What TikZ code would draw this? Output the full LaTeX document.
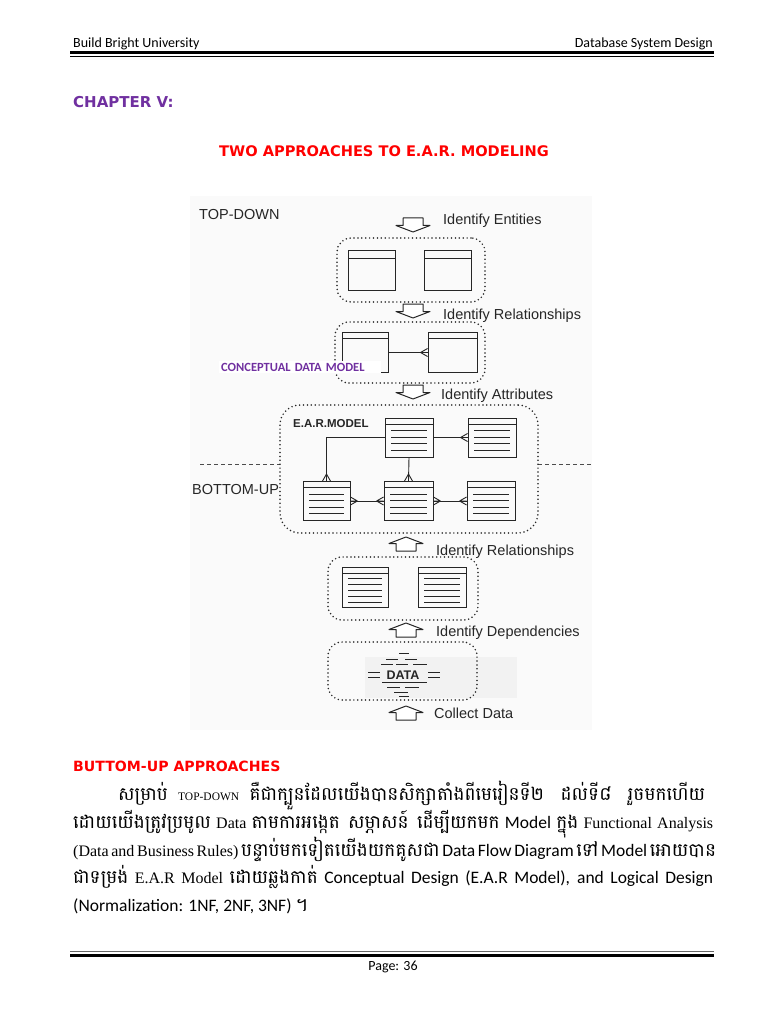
\documentclass[tikz,border=0pt]{standalone}
\usepackage{fontspec}
\setmainfont{Carlito}
\newfontfamily\khmerf[Script=Khmer]{Battambang}
\newfontfamily\arialf{Liberation Sans}
\newfontfamily\timesf{Liberation Serif}
\newfontfamily\comicf{DejaVu Sans}
\usetikzlibrary{positioning,calc}

\definecolor{chappurple}{RGB}{112,48,160}
\definecolor{titlered}{RGB}{255,0,0}
\colorlet{ink}{black!85}

% crow's foot at an entity edge, #2 = direction of the incoming line
\newcommand\crowfoot[2]{\draw[link, shift={(#1)}, rotate=#2] (7pt,0pt) -- (0pt,4pt) (7pt,0pt) -- (0pt,-4pt) (7pt,0pt) -- (0pt,0pt);}
\newcommand\km[1]{{\khmerf\fontsize{18.5}{22}\selectfont #1}}
\newcommand\serifbit[1]{{\timesf\fontsize{16}{20}\selectfont #1}}

\begin{document}
\begin{tikzpicture}[x=1pt,y=-1pt]
\tikzset{
  stage/.style={draw=ink, line width=1.7pt, dash pattern=on 0pt off 3.9pt, line cap=round, rounded corners=14pt, inner sep=0pt},
  entbox/.style={draw=ink, line width=0.9pt, inner sep=0pt, minimum width=47pt, minimum height=40pt},
  plain/.style={entbox, path picture={\draw[ink, line width=0.8pt] ([yshift=-#1]path picture bounding box.north west) -- ([yshift=-#1]path picture bounding box.north east);}},
  plain/.default=8pt,
  listed/.style 2 args={entbox, path picture={
      \draw[ink, line width=0.8pt] ([yshift=-6pt]path picture bounding box.north west) -- ([yshift=-6pt]path picture bounding box.north east);
      \foreach \k in {1,...,#1}
        \draw[ink, line width=0.9pt] ([xshift=6pt,yshift=-6pt-\k*#2]path picture bounding box.north west) -- ([xshift=-6pt,yshift=-6pt-\k*#2]path picture bounding box.north east);}},
  steplabel/.style={font=\arialf\fontsize{14.5}{16}\selectfont, text=ink, anchor=base west, inner sep=0pt},
  link/.style={draw=ink, line width=0.9pt},
  divider/.style={draw=black!70, line width=0.8pt, dash pattern=on 4pt off 3pt},
  heading/.style={font=\comicf\bfseries\fontsize{#1}{18}\selectfont, inner sep=0pt},
  para/.style={font=\fontsize{17.5}{20}\selectfont, anchor=base west, inner sep=0pt},
  blockarrow/.pic={\draw[ink, line width=1pt, fill=white, line join=round] (0,0) -- (17pt,-6.5pt) -- (10pt,-6.5pt) -- (10pt,-14pt) -- (-10pt,-14pt) -- (-10pt,-6.5pt) -- (-17pt,-6.5pt) -- cycle;},
}
\useasboundingbox[fill=white] (0,0) rectangle (768,1024);

% page header
\node[anchor=base west, font=\fontsize{14}{16}\selectfont, inner sep=0pt] (uni) at (73,48) {Build Bright University};
\node[anchor=base east, font=\fontsize{14}{16}\selectfont, inner sep=0pt] (course) at (713,48) {Database System Design};
\draw[line width=3pt] (70,52.5) -- (714,52.5);
\draw[line width=1pt] (70,56.5) -- (714,56.5);

\node[heading=15, anchor=base west, text=chappurple] (chap) at (73,108) {CHAPTER V:};
\node[heading=14.6, anchor=base, text=titlered] (title) at (384,157) {TWO APPROACHES TO E.A.R. MODELING};

% scanned figure
\fill[black!2] (190,196) rectangle (592,730);
\fill[black!5] (365,657) rectangle (517,698);

\node[steplabel] (topdown) at (199,220) {TOP-DOWN};
\node[steplabel] (botup) at (192,494) {BOTTOM-UP};
\draw[divider] (200,464) -- (280,464) (538,464) -- (592,464);

% top-down stages
\pic[rotate=180] at (413,232) {blockarrow};
\node[steplabel] (lent) at (443,225) {Identify Entities};
\node[stage, minimum width=148pt, minimum height=64pt] (entities) at (411,270) {};
\node[plain] (e1) at (371.5,270) {};
\node[plain] (e2) at (448,270) {};

\pic[rotate=180] at (413,318) {blockarrow};
\node[steplabel] (lrel) at (443,319) {Identify Relationships};
\node[stage, minimum width=150pt, minimum height=61pt] (concept) at (410,352.5) {};
\node[plain=6pt, minimum width=46pt, minimum height=40pt] (c1) at (365,352.5) {};
\node[plain=6pt, minimum width=49pt, minimum height=40pt] (c2) at (452.5,352.5) {};
\draw[link] (c1.east) -- (c2.west);
\crowfoot{c2.west}{180}
\node[anchor=base west, fill=white, inner sep=2pt, text width=158pt, align=left, text=chappurple, font=\bfseries\fontsize{12.5}{14}\selectfont] (cdm) at (219,371) {CONCEPTUAL DATA MODEL};

\pic[rotate=180] at (413,399) {blockarrow};
\node[steplabel] (latt) at (441,399) {Identify Attributes};
\node[stage, rounded corners=20pt, minimum width=258pt, minimum height=128pt] (ear) at (409,469) {};
\node[anchor=base west, inner sep=0pt, text=ink, font=\arialf\bfseries\fontsize{11.5}{13}\selectfont] (earlabel) at (293,427) {E.A.R.MODEL};
\node[listed={4}{6.5pt}, minimum width=48pt, minimum height=39pt] (m1) at (409,437.5) {};
\node[listed={4}{6.5pt}, minimum width=48pt, minimum height=39pt] (m2) at (492,437.5) {};
\node[listed={4}{6.5pt}, minimum width=47pt, minimum height=39pt] (m3) at (326.5,501) {};
\node[listed={4}{6.5pt}, minimum width=49pt, minimum height=39pt] (m4) at (408.5,501) {};
\node[listed={4}{6.5pt}, minimum width=48pt, minimum height=39pt] (m5) at (491,501) {};
\draw[link] (m1.west) -| (m3.north);
\draw[link] (m1.south) -- (m4.north);
\draw[link] (m1.east) -- (m2.west);
\draw[link] (m3.east) -- (m4.west);
\draw[link] (m4.east) -- (m5.west);
\crowfoot{m3.north}{90}
\crowfoot{m4.north}{90}
\crowfoot{m2.west}{180}
\crowfoot{m3.east}{0}
\crowfoot{m4.west}{180}
\crowfoot{m4.east}{0}
\crowfoot{m5.west}{180}

% bottom-up stages
\pic at (406,537) {blockarrow};
\node[steplabel] (lrel2) at (436,555) {Identify Relationships};
\node[stage, minimum width=150pt, minimum height=63pt] (tables) at (403,588.5) {};
\node[listed={5}{5.8pt}, minimum width=46pt] (d1) at (365,587) {};
\node[listed={5}{5.8pt}, minimum width=48pt] (d2) at (442,587) {};

\pic at (406,623) {blockarrow};
\node[steplabel] (ldep) at (436,636) {Identify Dependencies};
\node[stage, minimum width=149pt, minimum height=58pt] (raw) at (402.5,671) {};
\node[inner sep=1pt, text=ink, font=\arialf\bfseries\fontsize{12.5}{14}\selectfont] (data) at (403,675) {DATA};
\begin{scope}[shift={(data.center)}, ink, line width=1pt]
  \foreach \a/\b/\y in {-4/6/-22, -17/-5/-16, 2/14/-16, -22/-10/-11, -7/5/-11, 10/24/-11,
                         -35/-23/-3, 25/37/-3, -35/-23/2, 25/37/2, -21/24/7,
                         -16/-3/12, 2/16/12, -9/5/17, -4/6/21}
    \draw (\a,\y) -- (\b,\y);
\end{scope}

\pic at (406,706) {blockarrow};
\node[steplabel] (lcol) at (434,718) {Collect Data};

% text below figure
\node[heading=14.1, anchor=base west, text=titlered] (bottomup) at (73,771) {BUTTOM-UP APPROACHES};
\node[para] (p1) at (118,800) {\makebox[587pt][s]{\km{សម្រាប់} {\timesf\fontsize{11.5}{14}\selectfont TOP-DOWN} \km{គឺជាក្បួនដែលយើងបានសិក្សាតាំងពីមេរៀនទី២ ដល់ទី៨ រួចមកហើយ}}};
\node[para] (p2) at (73,828) {\makebox[640pt][s]{\km{ដោយយើងត្រូវប្រមូល} \serifbit{Data} \km{តាមការអង្កេត សម្ភាសន៍ ដើម្បីយកមក} Model \km{ក្នុង} \serifbit{Functional Analysis}}};
\node[para] (p3) at (73,856) {\makebox[640pt][s]{\serifbit{(Data and Business Rules)} \km{បន្ទាប់មកទៀតយើងយកគូសជា} Data Flow Diagram \km{ទៅ} Model \km{អោយបាន}}};
\node[para] (p4) at (73,883) {\makebox[640pt][s]{\km{ជាទម្រង់} \serifbit{E.A.R Model} \km{ដោយឆ្លងកាត់} Conceptual Design (E.A.R Model), and Logical Design}};
\node[para] (p5) at (73,911) {(Normalization: 1NF, 2NF, 3NF) \km{។}};

% page footer
\draw[line width=1pt, black!60] (70,951) -- (714,951);
\draw[line width=3pt] (70,955) -- (714,955);
\node[anchor=base, font=\fontsize{14}{16}\selectfont, inner sep=0pt] (page) at (393,970) {Page: 36};
\end{tikzpicture}
\end{document}
